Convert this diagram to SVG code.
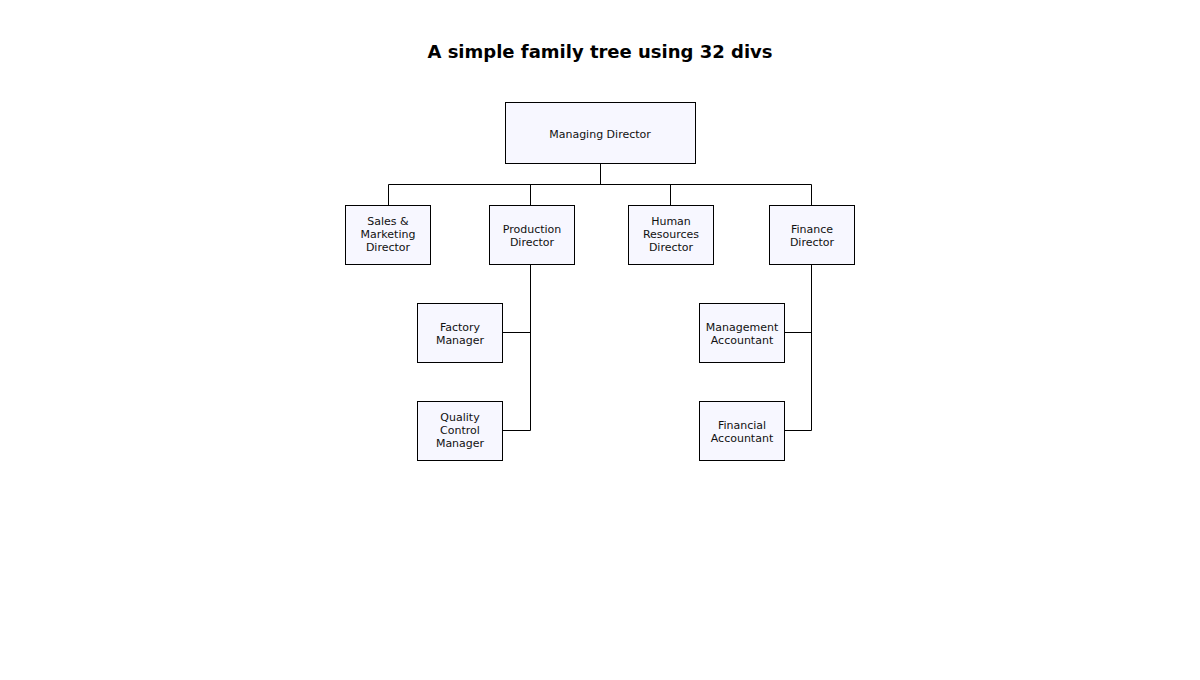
<svg xmlns="http://www.w3.org/2000/svg" width="1200" height="680" viewBox="0 0 1200 680">
<style>
.b{fill:#f7f7ff;stroke:#000;stroke-width:1}
.t{font-family:"DejaVu Sans",Verdana,sans-serif;font-size:11px;fill:#111;text-anchor:middle}
.c{fill:none;stroke:#000;stroke-width:1}
</style>
<rect width="1200" height="680" fill="#fff"/>
<text x="600" y="58" text-anchor="middle" font-family="DejaVu Sans,Verdana,sans-serif" font-size="18" font-weight="bold">A simple family tree using 32 divs</text>
<g id="connectors">
<path class="c" d="M600.5 163V184.5M388.5 205V184.5H811.5V205M530.5 184.5V205M670.5 184.5V205M530.5 264V430.5H502M530.5 332.5H502M811.5 264V430.5H784M811.5 332.5H784"/>
</g>
<g id="md"><rect class="b" x="505.5" y="102.5" width="190" height="61"/><text class="t" x="600" y="138">Managing Director</text></g>
<g id="sales"><rect class="b" x="345.5" y="205.5" width="85" height="59"/><text class="t" x="388" y="225">Sales &amp;</text><text class="t" x="388" y="238">Marketing</text><text class="t" x="388" y="251">Director</text></g>
<g id="prod"><rect class="b" x="489.5" y="205.5" width="85" height="59"/><text class="t" x="532" y="233">Production</text><text class="t" x="532" y="246">Director</text></g>
<g id="hr"><rect class="b" x="628.5" y="205.5" width="85" height="59"/><text class="t" x="671" y="225">Human</text><text class="t" x="671" y="238">Resources</text><text class="t" x="671" y="251">Director</text></g>
<g id="fin"><rect class="b" x="769.5" y="205.5" width="85" height="59"/><text class="t" x="812" y="233">Finance</text><text class="t" x="812" y="246">Director</text></g>
<g id="factory"><rect class="b" x="417.5" y="303.5" width="85" height="59"/><text class="t" x="460" y="331">Factory</text><text class="t" x="460" y="344">Manager</text></g>
<g id="qc"><rect class="b" x="417.5" y="401.5" width="85" height="59"/><text class="t" x="460" y="421">Quality</text><text class="t" x="460" y="434">Control</text><text class="t" x="460" y="447">Manager</text></g>
<g id="mgmt"><rect class="b" x="699.5" y="303.5" width="85" height="59"/><text class="t" x="742" y="331">Management</text><text class="t" x="742" y="344">Accountant</text></g>
<g id="finacc"><rect class="b" x="699.5" y="401.5" width="85" height="59"/><text class="t" x="742" y="429">Financial</text><text class="t" x="742" y="442">Accountant</text></g>
</svg>
